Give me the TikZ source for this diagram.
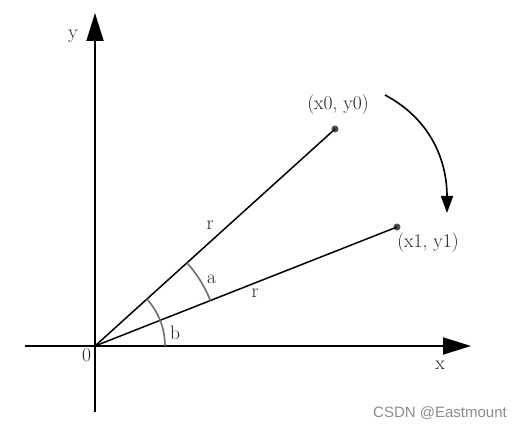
\documentclass[tikz,border=0pt]{standalone}
\usepackage{fontspec}
\newfontfamily\marksans{Liberation Sans}
\usetikzlibrary{arrows.meta}
\definecolor{txt}{RGB}{35,35,35}
\definecolor{arcgray}{RGB}{110,110,110}
\definecolor{mark}{RGB}{140,140,140}

\begin{document}
\begin{tikzpicture}[x=1pt, y=1pt,
	axis/.style={line width=1.8pt, -{Triangle[length=28pt, width=17pt]}},
	ray/.style={line width=1.5pt},
	angarc/.style={draw=arcgray, line width=1.6pt},
	pt/.style={circle, fill=black!70, inner sep=0pt, minimum size=7pt},
	lbl/.style={text=txt, inner sep=0pt, font=\fontsize{19.5}{22}\selectfont}]
	\useasboundingbox (-95,-83) rectangle (428,346);
	% draw axes
	\coordinate (O) at (0,0);
	\coordinate (xl) at (-70,0);
	\coordinate (xr) at (376,0);
	\coordinate (yd) at (0,-66);
	\coordinate (yu) at (0,333);
	\draw[axis] (xl) -- (xr);
	\draw[axis] (yd) -- (yu);
	% draw the two points and their rays
	\node[pt] (p0) at (240,217) {};
	\node[pt] (p1) at (302,119) {};
	\foreach \p in {p0,p1}
	\draw[ray] (O) -- (\p.center);
	% draw angle arcs
	\draw[angarc] (21.5:124) arc[start angle=21.5, end angle=42.1, radius=124];
	\draw[angarc] (0:70) arc[start angle=0, end angle=42.1, radius=70];
	% draw rotation arrow
	\coordinate (rs) at (290,251);
	\coordinate (re) at (352,133);
	\draw[line width=1.6pt, -{Triangle[length=17pt, width=12pt]}] (rs) to[out=-28, in=90] (re);
	% draw labels
	\node[lbl] (ly) at (-22,310) {y};
	\node[lbl] (lx) at (345,-19) {x};
	\node[lbl] (lo) at (-8.5,-9) {0};
	\node[lbl] (la) at (116.7,67) {a};
	\node[lbl] (lb) at (80,12.7) {b};
	\node[lbl] (r0) at (115,121) {r};
	\node[lbl] (r1) at (160,52.7) {r};
	\node[lbl] (l0) at (243,241) {(x0, y0)};
	\node[lbl] (l1) at (333,103) {(x1, y1)};
	\node[text=mark, inner sep=0pt, font=\marksans\fontsize{15}{17}\selectfont] (wm) at (345,-67) {CSDN @Eastmount};
\end{tikzpicture}
\end{document}
